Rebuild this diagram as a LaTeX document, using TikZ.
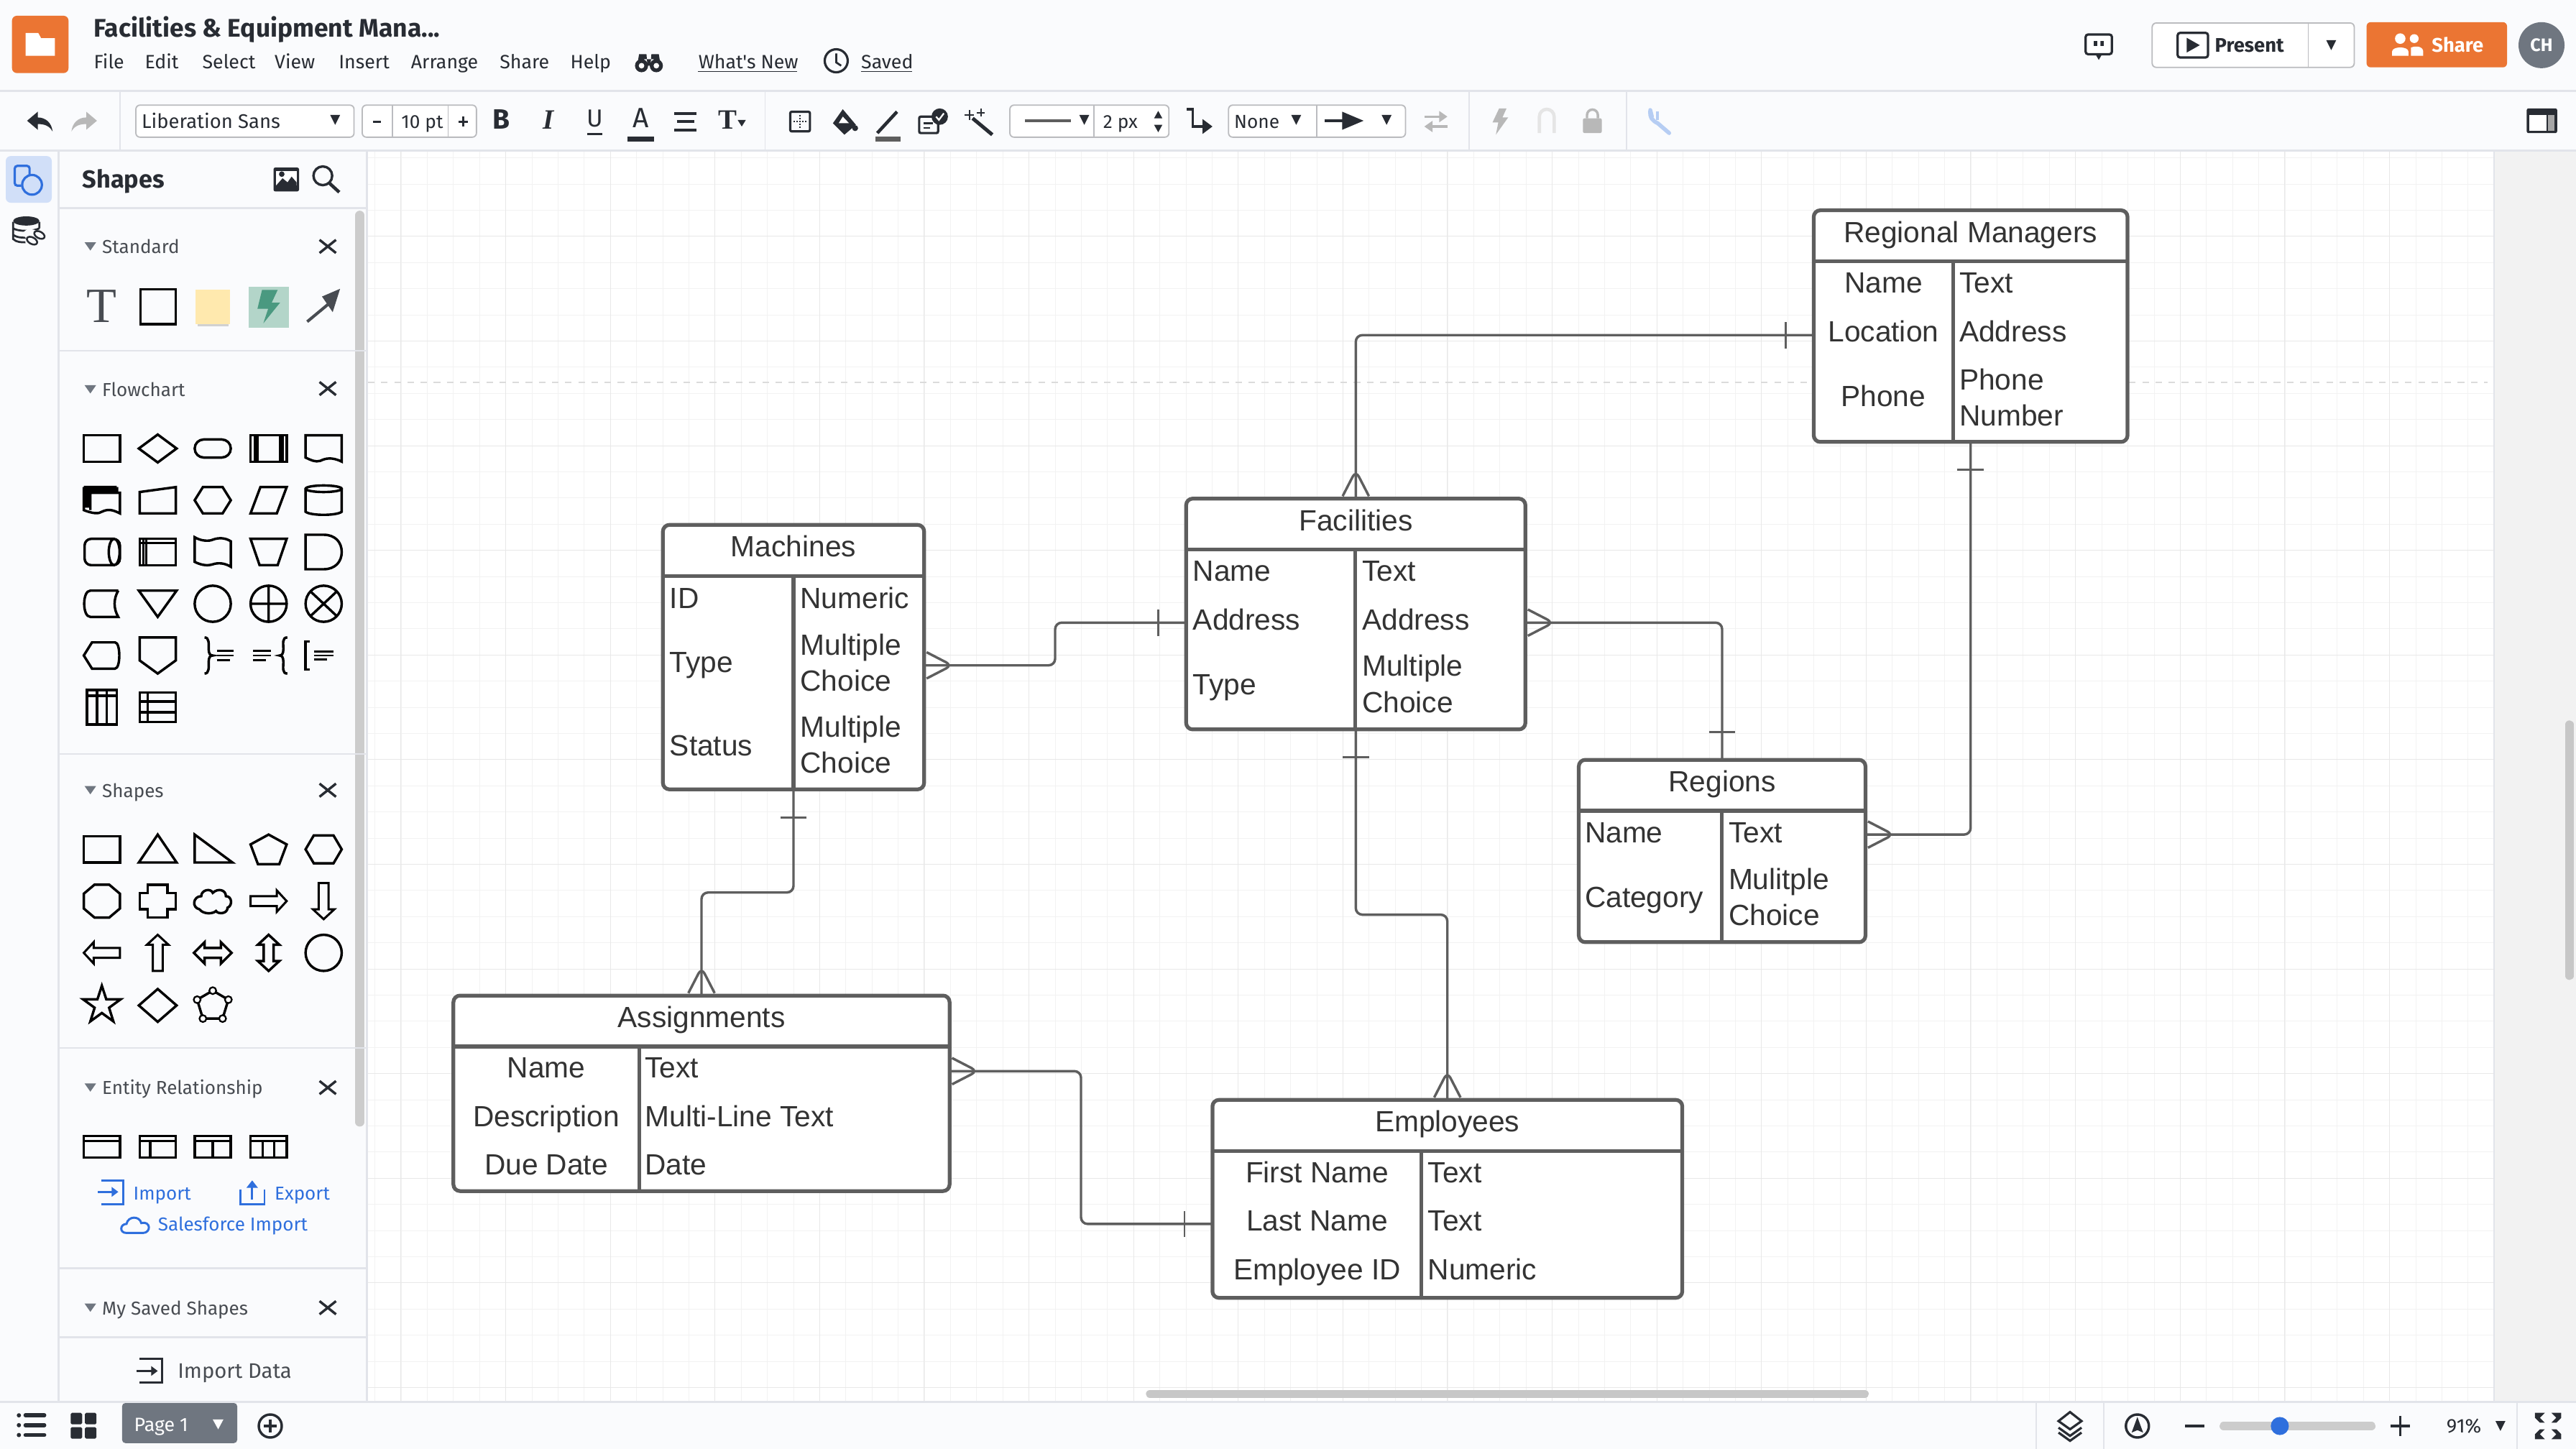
\documentclass[tikz,border=0pt]{standalone}
\usepackage{fontspec}
\setmainfont{Liberation Sans}
\newfontfamily\uifont{Fira Sans}
\newfontfamily\serfont{Liberation Serif}
\usetikzlibrary{calc}

\definecolor{uibg}{HTML}{FAFBFD}
\definecolor{uiline}{HTML}{E2E4EA}
\definecolor{uidark}{HTML}{282C33}
\definecolor{uigrey}{HTML}{6F7680}
\definecolor{uiorange}{HTML}{EB7533}
\definecolor{uiblue}{HTML}{2F6FDD}
\definecolor{boxgrey}{HTML}{5E5E5E}
\definecolor{cellink}{HTML}{333333}
\definecolor{stickyc}{HTML}{FFE9AE}
\definecolor{tealbg}{HTML}{B3D5C9}
\definecolor{tealfg}{HTML}{4A9980}

\tikzset{
	box/.style={draw=boxgrey, line width=2.3pt, fill=white, rounded corners=4pt, inner sep=0, outer sep=0},
	boxline/.style={draw=boxgrey, line width=2.3pt},
	conn/.style={draw=boxgrey, line width=1.5pt, rounded corners=4pt},
	cell/.style={font=\fontsize{17.8}{22}\selectfont, text=cellink, inner sep=0, text height=13pt, text depth=4pt, yshift=-1.9pt},
	cellm/.style={font=\fontsize{17.8}{22}\selectfont, text=cellink, inner sep=0, align=left, anchor=west},
	ui/.style={font=\uifont\fontsize{11.7}{14}\selectfont, text=uidark, inner sep=0, anchor=west, text height=9pt, text depth=2.5pt},
	sect/.style={font=\uifont\fontsize{11.4}{14}\selectfont, text=uidark!85, inner sep=0, anchor=west, text height=9pt, text depth=2.5pt},
	blue/.style={font=\uifont\fontsize{11.4}{14}\selectfont, text=uiblue, inner sep=0, anchor=west, text height=9pt, text depth=2.5pt},
	icon/.style={draw=black, line width=1.5pt, line join=miter},
	tool/.style={draw=uidark, line width=1.4pt},
	combo/.style={draw=uiline!60!gray, line width=0.8pt, fill=white, rounded corners=2.5pt},
	crow/.pic={\draw[conn] (1.5,-8) -- (17,0) -- (1.5,8);},
	tick/.pic={\draw[conn,line width=1.2pt] (17,-8) -- (17,8);},
}

\def\entity(#1)(#2,#3)(#4,#5)(#6,#7)#8{
	\node[box, minimum width=#4pt, minimum height=#5pt, anchor=north west] (#1) at (#2,#3) {};
	\draw[boxline] ([yshift=-#6pt]#1.north west) -- ([yshift=-#6pt]#1.north east);
	\draw[boxline] ([xshift=#7pt,yshift=-#6pt]#1.north west) -- ([xshift=#7pt]#1.south west);
	\node[cell] (#1title) at ($(#1.north)+(0,#6/2-2.4)$) {#8};
}
\def\ico(#1,#2)#3{\draw[icon,shift={(#1,#2)}] #3;}
\def\blockarrow(#1,#2)(#3){\draw[icon,line width=1.3pt,shift={(#1,#2)},rotate=#3] (-11,-3) -- (5,-3) -- (5,-6.5) -- (11,0) -- (5,6.5) -- (5,3) -- (-11,3) -- cycle;}
\def\closex(#1,#2){\draw[uidark,line width=1.5pt,shift={(#1,#2)}] (-5,-4) -- (5,4) (-5,4) -- (5,-4);}
\def\sectri(#1,#2){\fill[uigrey,shift={(#1,#2)}] (-3.5,-2.5) -- (3.5,-2.5) -- (0,2.5) -- cycle;}
\def\dropdn(#1,#2){\fill[uidark,shift={(#1,#2)}] (-3,-3) -- (3,-3) -- (0,3) -- cycle;}

\begin{document}
\begin{tikzpicture}[x=1pt,y=-1pt]
	\useasboundingbox (0,0) rectangle (1568,882);
	\fill[uibg] (0,0) rectangle (1568,882);
	
	%%%%% canvas %%%%%
	\fill[white] (224,92) rectangle (1518,853);
	\fill[black!5] (1518,92) rectangle (1568,853);
	\foreach \k in {0,...,81} \draw[black!5,line width=0.4pt] ({228.25+15.925*\k},92) -- ++(0,761);
	\foreach \k in {0,...,47} \draw[black!5,line width=0.4pt] (224,{96.1+15.925*\k}) -- ++(1294,0);
	\foreach \k in {0,...,20} \draw[black!9,line width=0.45pt] ({244.1+63.7*\k},92) -- ++(0,761);
	\foreach \k in {0,...,11} \draw[black!9,line width=0.45pt] (224,{143.9+63.7*\k}) -- ++(1294,0);
	\draw[black!14,line width=1pt,dash pattern=on 4pt off 4pt] (224,232.7) -- (1514,232.7);
	\draw[uiline,line width=0.8pt] (1518,92) -- (1518,853);
	
	%%%%% entities %%%%%
	\entity(mgr)(1104,128)(191,141)(31,85){Regional Managers}
	\entity(mac)(403.5,319.5)(159,161)(31,79.5){Machines}
	\entity(fac)(722,303.5)(206.5,140.5)(31,103){Facilities}
	\entity(reg)(961,462.5)(174.5,111)(31,87){Regions}
	\entity(asg)(276,606)(302,119)(31,113){Assignments}
	\entity(emp)(738,669.5)(286,120.5)(31,127){Employees}
	
	\node[cell] (mgrA) at (1146.4,172) {Name};
	\node[cell] (mgrB) at (1146.4,201.5) {Location};
	\node[cell] (mgrC) at (1146.4,241) {Phone};
	\node[cell,anchor=west] (mgrD) at (1192.5,172) {Text};
	\node[cell,anchor=west] (mgrE) at (1192.5,201.5) {Address};
	\node[cellm] (mgrF) at (1192.5,242) {Phone\\Number};
	
	\node[cell,anchor=west] (macA) at (407.5,364) {ID};
	\node[cell,anchor=west] (macB) at (407.5,403) {Type};
	\node[cell,anchor=west] (macC) at (407.5,453.5) {Status};
	\node[cell,anchor=west] (macD) at (487,364) {Numeric};
	\node[cellm] (macE) at (487,403.2) {Multiple\\Choice};
	\node[cellm] (macF) at (487,453.2) {Multiple\\Choice};
	
	\node[cell,anchor=west] (facA) at (726,347.5) {Name};
	\node[cell,anchor=west] (facB) at (726,377) {Address};
	\node[cell,anchor=west] (facC) at (726,416.5) {Type};
	\node[cell,anchor=west] (facD) at (829,347.5) {Text};
	\node[cell,anchor=west] (facE) at (829,377) {Address};
	\node[cellm] (facF) at (829,416.3) {Multiple\\Choice};
	
	\node[cell,anchor=west] (regA) at (964.5,506.7) {Name};
	\node[cell,anchor=west] (regB) at (964.5,546) {Category};
	\node[cell,anchor=west] (regC) at (1052,506.7) {Text};
	\node[cellm] (regD) at (1052,546) {Mulitple\\Choice};
	
	\node[cell] (asgA) at (332.5,649.7) {Name};
	\node[cell] (asgB) at (332.5,679.3) {Description};
	\node[cell] (asgC) at (332.5,708.8) {Due Date};
	\node[cell,anchor=west] (asgD) at (392.5,649.7) {Text};
	\node[cell,anchor=west] (asgE) at (392.5,679.3) {Multi-Line Text};
	\node[cell,anchor=west] (asgF) at (392.5,708.8) {Date};
	
	\node[cell] (empA) at (801.7,713.3) {First Name};
	\node[cell] (empB) at (801.7,743) {Last Name};
	\node[cell] (empC) at (801.7,772.5) {Employee ID};
	\node[cell,anchor=west] (empD) at (869,713.3) {Text};
	\node[cell,anchor=west] (empE) at (869,743) {Text};
	\node[cell,anchor=west] (empF) at (869,772.5) {Numeric};
	
	%%%%% connectors %%%%%
	\coordinate (mgrIn) at (mgr.west |- 0,204);
	\coordinate (macOut) at (mac.east |- 0,405);
	\coordinate (facIn) at (fac.west |- 0,379);
	\coordinate (facOut) at (fac.east |- 0,379);
	\coordinate (regIn) at (reg.east |- 0,508);
	\coordinate (asgOut) at (asg.east |- 0,652);
	\coordinate (empIn) at (emp.west |- 0,745);
	
	\draw[conn] (fac.north) |- (mgrIn);
	\draw[conn] (macOut) -| ($(macOut)!0.5!(facIn)$) |- (facIn);
	\draw[conn] (mac.south) |- ($(mac.south)!0.5!(asg.north)$) -| (asg.north);
	\draw[conn] (facOut) -| (reg.north);
	\draw[conn] (mgr.south) |- (regIn);
	\draw[conn] (fac.south) |- ($(fac.south)!0.5!(emp.north)$) -| (emp.north);
	\draw[conn] (asgOut) -| ($(asgOut)!0.5!(empIn)$) |- (empIn);
	
	\pic[rotate=90] at (fac.north) {crow};
	\pic[rotate=180] at (mgrIn) {tick};
	\pic at (macOut) {crow};
	\pic[rotate=180] at (facIn) {tick};
	\pic[rotate=-90] at (mac.south) {tick};
	\pic[rotate=90] at (asg.north) {crow};
	\pic at (facOut) {crow};
	\pic[rotate=90] at (reg.north) {tick};
	\pic[rotate=-90] at (mgr.south) {tick};
	\pic at (regIn) {crow};
	\pic[rotate=-90] at (fac.south) {tick};
	\pic[rotate=90] at (emp.north) {crow};
	\pic at (asgOut) {crow};
	\pic[rotate=180] at (empIn) {tick};
	
	%%%%% scrollbars %%%%%
	\draw[black!22,line width=5pt,line cap=round] (700,848.5) -- (1135,848.5);
	\draw[black!22,line width=5pt,line cap=round] (1564,441) -- (1564,594);
	\draw[black!20,line width=5.5pt,line cap=round] (219,131) -- (219,683);
	
	%%%%% frame of the panels %%%%%
	\draw[uiline,line width=1.4pt] (0,55.5) -- (1568,55.5) (0,91.5) -- (1568,91.5) (0,853.5) -- (1568,853.5);
	\draw[uiline,line width=1.2pt] (35.5,92) -- (35.5,853) (223.3,92) -- (223.3,853);
	\draw[uiline,line width=0.8pt] (73,56) -- (73,91) (465.7,56) -- (465.7,91) (894.4,56) -- (894.4,91) (990,56) -- (990,91);
	\draw[uiline,line width=0.8pt] (1239.5,854) -- (1239.5,882) (1280.6,854) -- (1280.6,882) (1532,854) -- (1532,882);
	\draw[uiline,line width=1pt] (36,126.6) -- (223,126.6) (36,213.5) -- (223,213.5) (36,459) -- (223,459) (36,638) -- (223,638) (36,772) -- (223,772) (36,814) -- (223,814);
	
	%%%%% title bar %%%%%
	\fill[uiorange,rounded corners=3pt] (7.3,9.6) rectangle (41.7,44.5);
	\fill[white] (15.6,20.1) -- (23.3,20.1) -- (25,23.2) -- (33.4,23.2) -- (33.4,34) -- (15.6,34) -- cycle;
	\node[ui,font=\uifont\bfseries\fontsize{15.5}{18}\selectfont] (docname) at (57,19.2) {Facilities \& Equipment Mana...};
	\node[ui] (mFile) at (57,38.7) {File};
	\node[ui] (mEdit) at (88,38.7) {Edit};
	\node[ui] (mSelect) at (123,38.7) {Select};
	\node[ui] (mView) at (167,38.7) {View};
	\node[ui] (mInsert) at (206,38.7) {Insert};
	\node[ui] (mArrange) at (250,38.7) {Arrange};
	\node[ui] (mShare) at (304,38.7) {Share};
	\node[ui] (mHelp) at (347,38.7) {Help};
	\fill[uidark] (388,39) -- (389,33) -- (393.5,33) -- (394,39) -- cycle (396,39) -- (396.5,33) -- (401,33) -- (402,39) -- cycle (392,36) rectangle (398,40);
	\fill[uidark] (390.5,40) circle (4) (399.5,40) circle (4);
	\fill[white] (390.5,40) circle (1.7) (399.5,40) circle (1.7);
	\node[ui] (mNew) at (425,38.7) {What's New};
	\draw[uidark,line width=0.8pt] (425,43.5) -- (485,43.5);
	\draw[uidark,line width=1.4pt] (509,37) circle (7);
	\draw[uidark,line width=1.2pt] (509,32.5) -- (509,38) -- (512,40);
	\node[ui] (mSaved) at (524,38.7) {Saved};
	\draw[uidark,line width=0.8pt] (524,43.5) -- (555,43.5);
	
	\draw[tool,rounded corners=1.5pt,fill=white] (1269.5,21) rectangle (1285.5,33);
	\fill[uidark] (1275.5,33) -- (1279.5,33) -- (1277.5,36.5) -- cycle;
	\fill[uidark] (1274.5,25) rectangle (1276.5,28) (1278.5,25) rectangle (1280.5,28);
	\draw[combo] (1310,14) rectangle (1433,41);
	\draw[uiline!60!gray,line width=0.8pt] (1405,14) -- (1405,41);
	\draw[tool,rounded corners=1.5pt] (1325.5,20) rectangle (1344,35);
	\fill[uidark] (1331,23) -- (1339,27.5) -- (1331,32) -- cycle;
	\node[ui,font=\uifont\bfseries\fontsize{12}{14}\selectfont] (present) at (1348,28.5) {Present};
	\dropdn(1419,27.5)
	\fill[uiorange,rounded corners=2.5pt] (1440.5,13.5) rectangle (1526,41);
	\fill[white] (1461,23.5) circle (3.2) (1469.5,23.5) circle (2.7);
	\fill[white] (1456,34) -- (1456,31.5) .. controls (1456,28) and (1466,28) .. (1466,31.5) -- (1466,34) -- cycle;
	\fill[white] (1467.5,34) -- (1467.5,29) .. controls (1471,27.5) and (1475,28.5) .. (1475,31.5) -- (1475,34) -- cycle;
	\node[ui,text=white,font=\uifont\bfseries\fontsize{12}{14}\selectfont] (share) at (1480,28.5) {Share};
	\fill[uigrey] (1547,27.5) circle (14);
	\node[ui,anchor=center,text=white,font=\uifont\bfseries\fontsize{11}{13}\selectfont] (user) at (1547,28) {CH};
	
	%%%%% tool bar %%%%%
	\fill[uidark] (16.5,73.5) -- (23,68) -- (23,71.5) .. controls (28,71.5) and (31.5,75) .. (32,80) .. controls (30,76.5) and (27,75.5) .. (23,75.5) -- (23,79) -- cycle;
	\fill[black!28] (59,73.5) -- (52.5,68) -- (52.5,71.5) .. controls (47.5,71.5) and (44,75) .. (43.5,80) .. controls (45.5,76.5) and (48.5,75.5) .. (52.5,75.5) -- (52.5,79) -- cycle;
	\draw[combo] (82.7,64) rectangle (215.5,83.5);
	\node[ui,font=\uifont\fontsize{12}{14}\selectfont] (fontname) at (86,75) {Liberation Sans};
	\dropdn(204,73)
	\draw[combo] (220.5,64) rectangle (290,83.5);
	\draw[uiline!60!gray,line width=0.8pt] (238.7,64) -- (238.7,83.5) (272.8,64) -- (272.8,83.5);
	\draw[uidark,line width=1.4pt] (227,74) -- (232,74) (279,74) -- (285,74) (282,71) -- (282,77);
	\node[ui,anchor=center,font=\uifont\fontsize{11.5}{14}\selectfont] (fsize) at (257,75) {10 pt};
	\node[ui,anchor=center,font=\uifont\bfseries\fontsize{17}{20}\selectfont] (tB) at (305,75.5) {B};
	\node[ui,anchor=center,font=\serfont\bfseries\itshape\fontsize{17}{20}\selectfont] (tI) at (334,75.5) {I};
	\node[ui,anchor=center,font=\uifont\fontsize{15}{18}\selectfont] (tU) at (362,74) {U};
	\draw[uidark,line width=1.4pt] (357.5,81.5) -- (366.5,81.5);
	\node[ui,anchor=center,font=\uifont\fontsize{17}{20}\selectfont] (tA) at (390,74.5) {A};
	\fill[uidark] (382,83) rectangle (398,86);
	\draw[uidark,line width=1.7pt] (410.5,69) -- (424,69) (412,74) -- (422.5,74) (410.5,79) -- (424,79);
	\node[ui,anchor=center,font=\serfont\bfseries\fontsize{17}{20}\selectfont] (tT) at (443,75.5) {T};
	\fill[uidark] (449,73) -- (454,73) -- (451.5,77) -- cycle;
	\draw[tool,rounded corners=1pt] (481,68) rectangle (493,80);
	\draw[uidark,line width=0.8pt,densely dotted] (487,70) -- (487,78) (483,74) -- (491,74);
	\fill[uidark] (513,66.5) -- (521,76) -- (514,82) -- (507,75) -- cycle;
	\fill[white] (513,71) -- (516.8,75) -- (510.5,75) -- cycle;
	\fill[uidark] (520.5,78) circle (1.8);
	\draw[uidark,line width=2pt] (534,81) -- (546,68);
	\fill[boxgrey] (533,83) rectangle (548,86);
	\draw[tool,rounded corners=1pt] (559.5,71) -- (559.5,81) -- (571,81) -- (571,71) -- cycle;
	\draw[uidark,line width=1pt] (562,75) -- (568,75) (562,78) -- (566,78);
	\fill[uidark] (572,71) circle (5);
	\draw[white,line width=1pt] (569.8,71) -- (571.5,73) -- (574.5,69);
	\draw[uidark,line width=2.2pt] (592,72) -- (604,82);
	\draw[uidark,line width=0.9pt] (590,67) -- (590,73) (587,70) -- (593,70) (597,66) -- (597,71) (594.5,68.5) -- (599.5,68.5);
	\draw[combo] (614.7,64) rectangle (711.5,83.5);
	\draw[uiline!60!gray,line width=0.8pt] (666,64) -- (666,83.5);
	\draw[boxgrey,line width=1.5pt] (624,73.5) -- (652,73.5);
	\dropdn(660,73)
	\node[ui,anchor=center,font=\uifont\fontsize{11.5}{14}\selectfont] (lwidth) at (682,75) {2 px};
	\fill[uidark] (705,67.5) -- (707.5,72) -- (702.5,72) -- cycle (705,80.5) -- (707.5,76) -- (702.5,76) -- cycle;
	\draw[uidark,line width=1.6pt] (722.5,66.5) -- (726,66.5) -- (726,77) -- (733,77);
	\fill[uidark] (732,72.5) -- (738,77) -- (732,81.5) -- cycle;
	\draw[combo] (747.8,64) rectangle (855.5,83.5);
	\draw[uiline!60!gray,line width=0.8pt] (801.5,64) -- (801.5,83.5);
	\node[ui,font=\uifont\fontsize{11.5}{14}\selectfont] (lend) at (751,75) {None};
	\dropdn(789,73)
	\draw[uidark,line width=1.6pt] (806.5,73.5) -- (820,73.5);
	\fill[uidark] (817,68) -- (830,73.5) -- (817,79) -- cycle;
	\dropdn(844,73)
	\draw[black!28,line width=1.5pt] (867,71) -- (880,71) (868,77) -- (881,77);
	\fill[black!28] (876,67.5) -- (881,71) -- (876,74.5) -- cycle (872,73.5) -- (867,77) -- (872,80.5) -- cycle;
	\fill[black!28] (912.5,66) -- (917,66) -- (914.5,71.5) -- (918,71.5) -- (910.5,82) -- (912,74.5) -- (908.5,74.5) -- cycle;
	\draw[black!10,line width=2pt] (937,81) -- (937,71) arc (180:360:4.5) -- (946,81);
	\fill[black!28,rounded corners=1pt] (963.5,72) rectangle (975,81);
	\draw[black!28,line width=1.5pt] (966,72) -- (966,70) arc (180:360:3.3) -- (972.6,72);
	\draw[uiblue!35,line width=2.4pt,line cap=round] (1004.5,67) .. controls (1004,72) and (1006,73.5) .. (1009,75) -- (1016,81) (1004.5,67) -- (1005.5,71);
	\draw[uiblue!35,line width=1.6pt] (1009,68) -- (1009,73);
	\fill[uidark,rounded corners=1pt] (1538,66) rectangle (1556.5,81);
	\fill[white] (1539.5,70) rectangle (1550,79.5);
	\fill[black!35] (1551,70) rectangle (1555,79.5);
	
	%%%%% left rail %%%%%
	\fill[uiblue!22,rounded corners=3pt] (3.5,95) rectangle (31.5,123.4);
	\draw[uiblue,line width=1.4pt,rounded corners=1.5pt] (18,107) -- (18,101) -- (9,101) -- (9,113) -- (13,113);
	\draw[uiblue,line width=1.4pt] (19.5,112.5) circle (6);
	\fill[uidark] (16,134.5) ellipse (8 and 2.8);
	\draw[uidark,line width=1.2pt] (8,135) -- (8,145.5) .. controls (10,147.5) and (13,147.5) .. (15.5,147.5) (8,139) .. controls (11,141) and (20,141) .. (24,139) (8,143) .. controls (10,144.5) and (14,145) .. (17,144.5) (24,135) -- (24,139);
	\draw[uibg,line width=3pt,rotate around={-28:(21.5,144.5)}] (21.5,144.5) ellipse (6 and 2.5);
	\draw[uidark,line width=1.1pt,rotate around={-28:(19.5,146.5)}] (19.5,146.5) ellipse (3.4 and 2);
	\draw[uidark,line width=1.1pt,rotate around={-28:(24,143)}] (24,143) ellipse (3.4 and 2);
	
	%%%%% shape panel %%%%%
	\node[ui,font=\uifont\bfseries\fontsize{15}{18}\selectfont] (panel) at (50,111) {Shapes};
	\fill[uidark,rounded corners=1pt] (166.5,102) rectangle (182,116.5);
	\fill[white] (168,104) rectangle (180.5,113);
	\fill[uidark] (171.5,106) circle (1.7) (168,113) -- (172,108.5) -- (175,111) -- (177.5,107.5) -- (180.5,111) -- (180.5,113) -- cycle;
	\draw[uidark,line width=1.5pt] (196.5,107) circle (5.7);
	\draw[uidark,line width=2pt] (200.5,111.5) -- (206.5,117);
	
	\sectri(55,150) \node[sect] (secA) at (62,151) {Standard}; \closex(199.5,150)
	\sectri(55,237) \node[sect] (secB) at (62,238) {Flowchart}; \closex(199.5,236.5)
	\sectri(55,481) \node[sect] (secC) at (62,482) {Shapes}; \closex(199.5,481)
	\sectri(55,662) \node[sect] (secD) at (62,663) {Entity Relationship}; \closex(199.5,662)
	\sectri(55,796) \node[sect] (secE) at (62,797) {My Saved Shapes}; \closex(199.5,796)
	
	% standard
	\node[inner sep=0,text=uidark!85,font=\serfont\fontsize{30}{30}\selectfont] (stdT) at (62,186.5) {T};
	\draw[icon] (85.5,176) rectangle (107,197.3);
	\fill[black!18] (120.5,197) rectangle (139,198.5);
	\fill[stickyc] (119,176.4) rectangle (140,197.5);
	\fill[tealbg] (151.4,174.6) rectangle (175.7,199.3);
	\fill[tealfg,shift={(163.5,186.5)}] (-4,-10) -- (5.5,-10) -- (1.9,-2.3) -- (7,-2.3) -- (-3.2,10.3) -- (-0.3,1.5) -- (-6.8,1.5) -- cycle;
	\draw[uidark!85,line width=1.8pt] (187,195.8) -- (200,185);
	\fill[uidark!85] (207,175.8) -- (202.5,190) -- (196,180.5) -- cycle;
	
	% flowchart
	\ico(62,273){(-11,-8) rectangle (11,8)}
	\ico(96,273){(-11.5,0) -- (0,-8.5) -- (11.5,0) -- (0,8.5) -- cycle}
	\ico(129.5,273){[rounded corners=5.5pt] (-11,-5.5) rectangle (11,5.5)}
	\ico(163.5,273){(-11,-8) rectangle (11,8) (-8.5,-8) -- (-8.5,8) (-6.8,-8) -- (-6.8,8) (8.5,-8) -- (8.5,8) (6.8,-8) -- (6.8,8)}
	\ico(197,273){(-11,-8) -- (11,-8) -- (11,8) .. controls (5,5) and (1,6) .. (-2,7.5) .. controls (-5,8.5) and (-8,7) .. (-11,5.5) -- cycle}
	
	\ico(62,304.5){(-11,-8) -- (9,-8) (-11,-8) -- (-11,6) .. controls (-6,8) and (-2,8.5) .. (0,7) .. controls (4,5) and (7,6) .. (11,8) -- (11,-4.5) -- (-7,-4.5) -- (-7,6)}
	\fill[black] (51,296.5) rectangle (55,309) (51,296.5) rectangle (72,299.5);
	\ico(96,304.5){(-11,-5) -- (11,-8) -- (11,8) -- (-11,8) -- cycle}
	\ico(129.5,304.5){(-11,0) -- (-6,-8) -- (6,-8) -- (11,0) -- (6,8) -- (-6,8) -- cycle}
	\ico(163.5,304.5){(-11,8) -- (-5,-8) -- (11,-8) -- (5,8) -- cycle}
	\ico(197,304.5){(-11,-7) -- (-11,7) .. controls (-8,9.5) and (8,9.5) .. (11,7) -- (11,-7) (0,-7) ellipse (11 and 2)}
	
	\ico(62,336){[rounded corners=4pt] (-10.5,-8) rectangle (11,8) [sharp corners] (7.5,0) ellipse (3.3 and 8)}
	\ico(96,336){(-11,-8) rectangle (11,8) (-11,-5.5) -- (11,-5.5) (-8.7,-8) -- (-8.7,8) (-7,-8) -- (-7,8)}
	\ico(129.5,336){(-11,-9) .. controls (-7,-6.5) and (-2,-6.5) .. (0,-7.5) .. controls (4,-9) and (8,-8.5) .. (11,-6.5) -- (11,9) .. controls (7,6.5) and (3,6.5) .. (0,7.5) .. controls (-4,8.8) and (-8,7.5) .. (-11,6) -- cycle}
	\ico(163.5,336){(-11,-8) -- (11,-8) -- (5.5,8) -- (-5.5,8) -- cycle}
	\ico(197,336){(-11,-10.5) -- (0,-10.5) .. controls (7,-10.5) and (11,-6) .. (11,0) .. controls (11,6) and (7,10.5) .. (0,10.5) -- (-11,10.5) -- cycle}
	
	\ico(62,367.5){(10,-8) -- (-7,-8) .. controls (-12,-8) and (-12,8) .. (-7,8) -- (10,8) .. controls (7,3) and (7,-3) .. (10,-8)}
	\ico(96,367.5){(-11.5,-8) -- (11.5,-8) -- (0,8) -- cycle}
	\ico(129.5,367.5){(0,0) circle (11)}
	\ico(163.5,367.5){(0,0) circle (11) (-11,0) -- (11,0) (0,-11) -- (0,11)}
	\ico(197,367.5){(0,0) circle (11) (-8,-7.5) -- (8,7.5) (-8,7.5) -- (8,-7.5)}
	
	\ico(62,399){(-11,0) -- (-6,-8) -- (8,-8) .. controls (11.5,-8) and (11.5,8) .. (8,8) -- (-6,8) -- cycle}
	\ico(96,399){(-11,-11) -- (11,-11) -- (11,3) -- (0,11) -- (-11,3) -- cycle}
	\ico(129.5,399){(-5,-11) .. controls (-2,-11) and (-2.5,-7) .. (-2.5,-4) .. controls (-2.5,-1) and (-1.5,0) .. (0,0) .. controls (-1.5,0) and (-2.5,1) .. (-2.5,4) .. controls (-2.5,7) and (-2,11) .. (-5,11)}
	\draw[black,line width=1.3pt] (132,396) -- (142,396) (132,399) -- (142,399) (132,402) -- (140,402);
	\ico(163.5,399){(11.4,-11) .. controls (8,-11) and (9,-7) .. (9,-4) .. controls (9,-1) and (8,0) .. (6.7,0) .. controls (8,0) and (9,1) .. (9,4) .. controls (9,7) and (8,11) .. (11.4,11)}
	\draw[black,line width=1.3pt] (154,396) -- (165,396) (154,399) -- (165,399) (154,402) -- (162,402);
	\ico(197,399){(-8.5,-8.5) -- (-11,-8.5) -- (-11,8.5) -- (-8.5,8.5)}
	\draw[black,line width=1.1pt] (191,396.5) -- (203,396.5) (191,399) -- (203,399) (191,401.5) -- (199,401.5);
	
	\ico(62,430.5){(-9,-10.5) rectangle (9,10.5) (-9,-7) -- (9,-7) (-3,-10.5) -- (-3,10.5) (3,-10.5) -- (3,10.5)}
	\ico(96,430.5){(-11,-9) rectangle (11,9) (-11,-3.5) -- (11,-3.5) (-11,3) -- (11,3) (-6,-9) -- (-6,9)}
	
	% shapes
	\ico(62,517){(-11,-8) rectangle (11,8)}
	\ico(96,517){(-11.5,8) -- (0,-9) -- (11.5,8) -- cycle}
	\ico(129.5,517){(-11,-9) -- (-11,8) -- (12,8) -- cycle}
	\ico(163.5,517){(0,-9) -- (11,-3) -- (6.5,9) -- (-6.5,9) -- (-11,-3) -- cycle}
	\ico(197,517){(-11,0) -- (-6,-8.5) -- (6,-8.5) -- (11,0) -- (6,8.5) -- (-6,8.5) -- cycle}
	
	\ico(62,548.5){(-11,-4.5) -- (-4.5,-10) -- (4.5,-10) -- (11,-4.5) -- (11,4.5) -- (4.5,10) -- (-4.5,10) -- (-11,4.5) -- cycle}
	\ico(96,548.5){(-6,-10) -- (6,-10) -- (6,-5) -- (11,-5) -- (11,5) -- (6,5) -- (6,10) -- (-6,10) -- (-6,5) -- (-11,5) -- (-11,-5) -- (-6,-5) -- cycle}
	\ico(129.5,548.5){(-8,5) .. controls (-13,4) and (-12,-3) .. (-7,-3) .. controls (-7,-7) and (-1,-8) .. (0,-5) .. controls (3,-8) and (8,-7) .. (8,-3) .. controls (12,-3) and (12,3) .. (9,4) .. controls (9,8) and (3,8) .. (2,6) .. controls (0,8) and (-6,8) .. (-8,5)}
	\blockarrow(163.5,548.5)(0)
	\blockarrow(197,548.5)(-90)
	
	\blockarrow(62,580)(180)
	\blockarrow(96,580)(90)
	\ico(129.5,580){(-11.5,0) -- (-5,-6.5) -- (-5,-3) -- (5,-3) -- (5,-6.5) -- (11.5,0) -- (5,6.5) -- (5,3) -- (-5,3) -- (-5,6.5) -- cycle}
	\ico(163.5,580){(0,-11) -- (6.5,-5) -- (3,-5) -- (3,5) -- (6.5,5) -- (0,11) -- (-6.5,5) -- (-3,5) -- (-3,-5) -- (-6.5,-5) -- cycle}
	\ico(197,580){(0,0) circle (11)}
	
	\ico(62,612){(0,-12) -- (2.7,-3.7) -- (11.4,-3.7) -- (4.4,1.4) -- (7,9.7) -- (0,4.6) -- (-7,9.7) -- (-4.4,1.4) -- (-11.4,-3.7) -- (-2.7,-3.7) -- cycle}
	\ico(96,612){(-11.5,0) -- (0,-10) -- (11.5,0) -- (0,10) -- cycle}
	\ico(129.5,612){(0,-9) -- (9.5,-3.5) -- (6,8) -- (-6,8) -- (-9.5,-3.5) -- cycle}
	\foreach \vx/\vy in {129.5/603,139/608.5,135.5/620,123.5/620,120/608.5} \draw[black,line width=1pt,fill=white] (\vx,\vy) circle (2.1);
	
	% entity relationship
	\ico(62,698){(-11,-6.5) rectangle (11,6.5) (-11,-3.5) -- (11,-3.5)}
	\ico(96,698){(-11,-6.5) rectangle (11,6.5) (-11,-3.5) -- (11,-3.5) (-4.5,-3.5) -- (-4.5,6.5)}
	\ico(129.5,698){(-11,-6.5) rectangle (11,6.5) (-11,-3.5) -- (11,-3.5) (0,-3.5) -- (0,6.5)}
	\ico(163.5,698){(-11,-6.5) rectangle (11,6.5) (-11,-3.5) -- (11,-3.5) (-3.5,-3.5) -- (-3.5,6.5) (3.5,-3.5) -- (3.5,6.5)}
	
	\draw[uiblue,line width=1.2pt] (59.5,725.5) -- (70,725.5);
	\fill[uiblue] (68,722.5) -- (72,725.5) -- (68,728.5) -- cycle;
	\draw[uiblue,line width=1.3pt] (61.5,718.5) -- (75,718.5) -- (75,733) -- (61.5,733);
	\node[blue] (bImport) at (81,727) {Import};
	\draw[uiblue,line width=1.3pt] (146.5,724) -- (146.5,733) -- (161,733) -- (161,724);
	\draw[uiblue,line width=1.3pt] (153.5,721) -- (153.5,730);
	\fill[uiblue] (150,723) -- (153.5,718.5) -- (157,723) -- cycle;
	\node[blue] (bExport) at (167,727) {Export};
	\draw[uiblue,line width=1.3pt] (77,750.5) .. controls (72.5,750.5) and (73,745) .. (77,745) .. controls (78,740) and (85,740) .. (86,744.5) .. controls (92,743) and (92,750.5) .. (87,750.5) -- cycle;
	\node[blue] (bSales) at (96,746) {Salesforce Import};
	\draw[uidark,line width=1.3pt] (83,834.5) -- (94,834.5);
	\fill[uidark] (92,831.5) -- (96,834.5) -- (92,837.5) -- cycle;
	\draw[uidark,line width=1.3pt] (85,827) -- (98.5,827) -- (98.5,841.5) -- (85,841.5);
	\node[ui,font=\uifont\fontsize{12.8}{15}\selectfont,text=uidark!85] (bData) at (108,835.5) {Import Data};
	
	%%%%% bottom bar %%%%%
	\draw[uidark,line width=2.4pt,line cap=round] (15.5,861.5) -- (27,861.5) (15.5,867.5) -- (27,867.5) (15.5,873.5) -- (27,873.5);
	\fill[uidark] (11.5,861.5) circle (1.3) (11.5,867.5) circle (1.3) (11.5,873.5) circle (1.3);
	\fill[uidark,rounded corners=0.8pt] (43,860) rectangle (50,867) (51.7,860) rectangle (58.7,867) (43,868.7) rectangle (50,875.7) (51.7,868.7) rectangle (58.7,875.7);
	\fill[uigrey,rounded corners=2pt] (74.3,854) rectangle (144.4,878.4);
	\node[ui,text=white,font=\uifont\fontsize{11.7}{15}\selectfont] (pageA) at (81.5,868) {Page 1};
	\fill[white] (129.5,864) -- (136,864) -- (132.8,870) -- cycle;
	\draw[uidark,line width=1.5pt] (164.5,868) circle (7);
	\draw[uidark,line width=1.6pt] (160.5,868) -- (168.5,868) (164.5,864) -- (164.5,872);
	
	\draw[uidark,line width=1.4pt,shift={(1260,868)}] (-7,-3) -- (0,-8.5) -- (7,-3) -- (0,2) -- cycle (-7,1) -- (0,6) -- (7,1) (-7,4) -- (0,9) -- (7,4);
	\draw[uidark,line width=1.5pt] (1301,868) circle (7);
	\fill[uidark] (1301,862.5) -- (1304.5,872) -- (1301,870.5) -- (1297.5,872) -- cycle;
	\draw[uidark,line width=1.5pt] (1330,868) -- (1342,868) (1455,868) -- (1467,868) (1461,862) -- (1461,874);
	\draw[black!20,line width=5pt,line cap=round] (1353.5,868) -- (1443.5,868);
	\fill[uiblue] (1387.7,868) circle (5.5);
	\node[ui,font=\uifont\fontsize{12}{14}\selectfont] (zoompc) at (1489,869) {91\%};
	\dropdn(1522,868)
	\fill[uidark,shift={(1551,868)}] (-8,-8) -- (-2,-8) -- (-5,-5) -- (-2,-2) -- (-5,-2) -- (-8,-5) -- cycle (8,-8) -- (2,-8) -- (5,-5) -- (2,-2) -- (5,-2) -- (8,-5) -- cycle (-8,8) -- (-2,8) -- (-5,5) -- (-2,2) -- (-5,2) -- (-8,5) -- cycle (8,8) -- (2,8) -- (5,5) -- (2,2) -- (5,2) -- (8,5) -- cycle;
	
\end{tikzpicture}
\end{document}
